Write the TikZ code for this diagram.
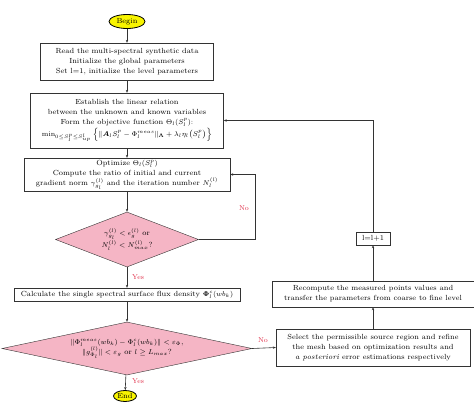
\documentclass[tikz,border=0pt]{standalone}
\usepackage{amsmath,amssymb,bm}
\usetikzlibrary{shapes.geometric, arrows.meta, positioning}
\definecolor{decpink}{HTML}{F5B5C5}
\definecolor{termyel}{HTML}{F8F400}
\definecolor{lblred}{HTML}{E0304A}
\definecolor{linegray}{HTML}{333333}
\tikzset{
    proc/.style={rectangle, draw=linegray, fill=white, align=center, inner sep=1pt, font=\fontsize{7.4}{10}\selectfont},
    term/.style={ellipse, draw=black, thick, fill=termyel, inner sep=0pt, font=\fontsize{7.4}{9}\selectfont},
    decide/.style={diamond, draw=linegray, fill=decpink, align=center, inner sep=0pt, font=\fontsize{7.4}{10}\selectfont},
    arr/.style={-{Stealth[length=3pt, width=2.4pt]}, semithick, linegray},
    lbl/.style={font=\fontsize{7}{8}\selectfont, lblred},
}

\begin{document}
\begin{tikzpicture}[x=1pt, y=-1pt]
\useasboundingbox (0,0) rectangle (474,402);

% ── Main column ──
\node[term, minimum width=36pt, minimum height=14pt] (begin) at (127, 21.5) {Begin};
\node[proc, minimum width=173pt, minimum height=37pt] (read) at (127, 61.5)
    {Read the multi-spectral synthetic data\\
     Initialize the global parameters\\
     Set l=1, initialize the level parameters};
\node[proc, minimum width=193pt, minimum height=55pt] (relation) at (127, 120.5)
    {Establish the linear relation\\
     between the unknown and known variables\\
     Form the objective function $\Theta_l(S_l^p)$:\\
     $\min_{0\leq S_l^p\leq S_{up}^l}\Big\{\|\bm{A}_l S_l^p-\Phi_l^{meas}\|_{\bm{\Lambda}}+\lambda_l\eta_l\big(S_l^p\big)\Big\}$};
\node[proc, minimum width=206pt, minimum height=33pt] (optim) at (127, 174.5)
    {Optimize $\Theta_l(S_l^p)$\\
     Compute the ratio of initial and current\\
     gradient norm $\gamma_{g_l}^{(l)}$ and the iteration number $N_l^{(l)}$};
\node[decide, minimum width=143pt, minimum height=55pt, aspect=2.6] (conv) at (127, 239.5)
    {$\gamma_{g_l}^{(l)}<\epsilon_g^{(l)}$ or\\ $N_l^{(l)}<N_{max}^{(l)}$?};
\node[proc, minimum width=226pt, minimum height=13pt] (flux) at (127, 294.5)
    {Calculate the single spectral surface flux density $\bm{\Phi}_l^c(wb_k)$};
\node[decide, minimum width=250pt, minimum height=53pt, aspect=4.7] (stop) at (127, 348.5)
    {$\|\Phi_l^{meas}(wb_k)-\Phi_l^c(wb_k)\|<\varepsilon_\Phi$,\\
     $\|g_{\Phi_l}^{(l)}\|<\varepsilon_g$ or $l\geq L_{max}$?};
\node[term, minimum width=23pt, minimum height=11pt] (end) at (125, 396) {End};

% ── Refinement column ──
\node[proc, minimum width=194pt, minimum height=37pt] (select) at (373, 347.5)
    {Select the permissible source region and refine\\
     the mesh based on optimization results and\\
     \emph{a posteriori} error estimations respectively};
\node[proc, minimum width=202pt, minimum height=26pt] (recomp) at (373, 294)
    {Recompute the measured points values and\\
     transfer the parameters from coarse to fine level};
\node[proc, minimum width=34pt, minimum height=13pt] (inc) at (373, 238.5) {l=l+1};

% ── Connectors ──
\draw[arr] (begin) -- (read);
\draw[arr] (read) -- (relation);
\draw[arr] (relation) -- (optim);
\draw[arr] (optim) -- (conv);
\draw[arr] (conv) -- (flux);
\draw[arr] (flux) -- (stop);
\draw[arr] (stop) -- (end);
\draw[arr] (conv.east) -- ++(57,0) |- (optim.east);
\draw[arr] (stop.east) -- (select.west);
\draw[arr] (select) -- (recomp);
\draw[arr] (recomp) -- (inc);
\draw[arr] (inc.north) |- (relation.east);

\node[lbl] (no1) at (244, 208) {No};
\node[lbl] (yes1) at (138, 277) {Yes};
\node[lbl] (yes2) at (138, 381) {Yes};
\node[lbl] (no2) at (263, 340) {No};

\end{tikzpicture}
\end{document}
